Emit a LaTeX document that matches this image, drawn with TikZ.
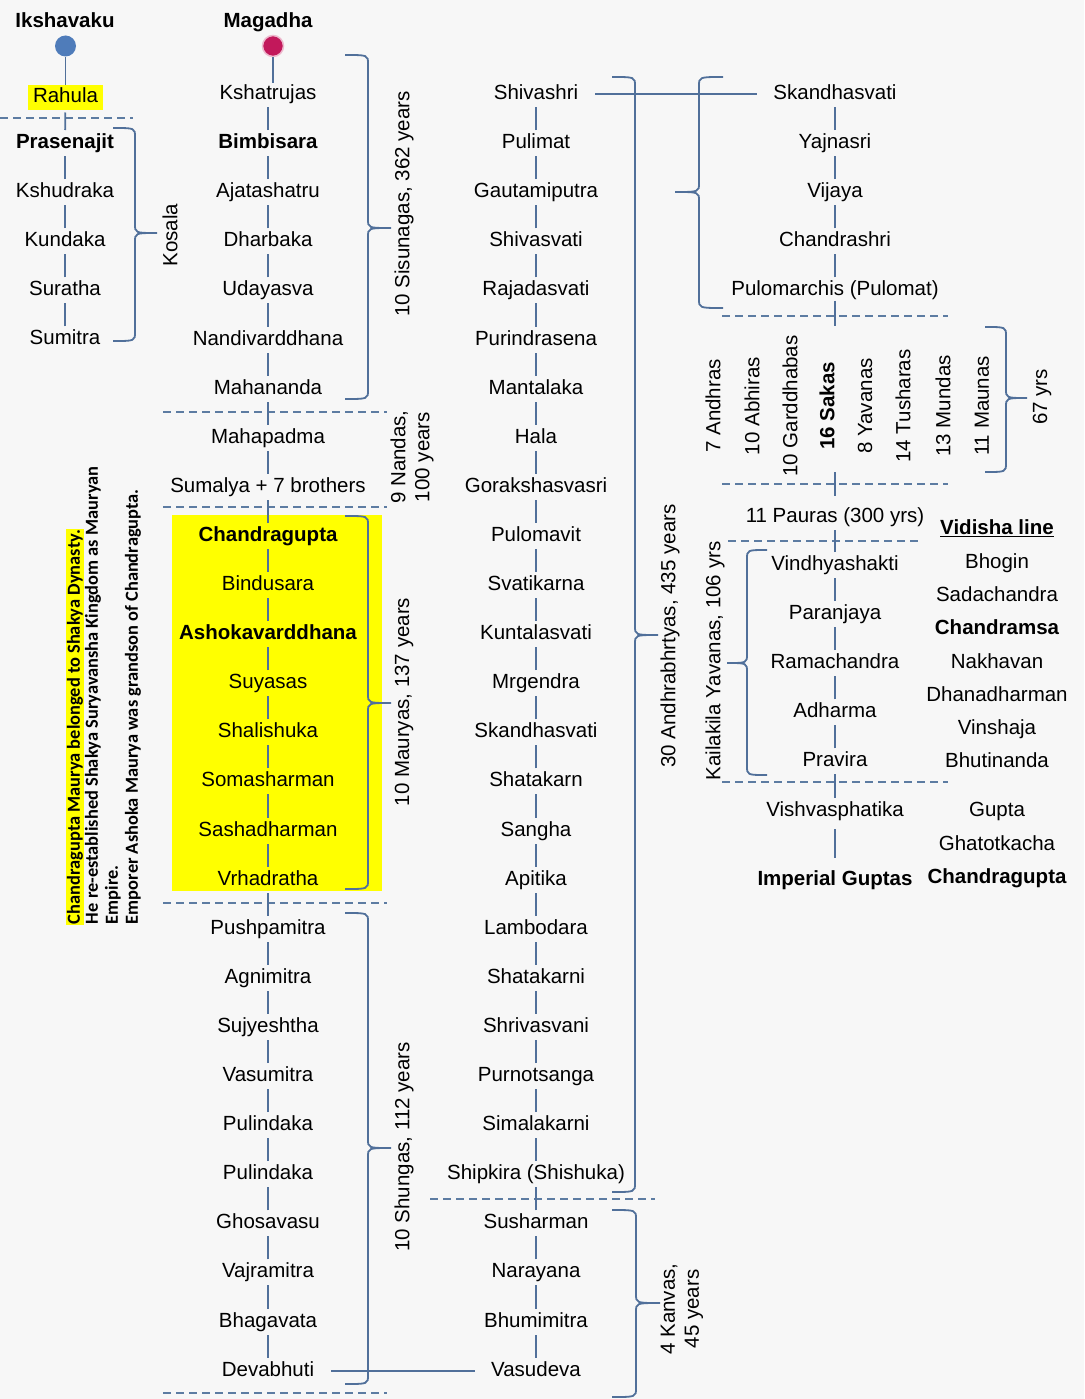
\documentclass[tikz,border=0pt]{standalone}
\usepackage{fontspec}
\setmainfont{Liberation Sans}
\newfontfamily\notefont{Carlito}
\usepackage{tikz}
\usetikzlibrary{positioning}
\usepackage{xcolor}
\definecolor{bgGray}{HTML}{F7F7F7}
\definecolor{lineBlue}{HTML}{51709A}
\definecolor{dashBlue}{HTML}{5D7CA2}
\definecolor{ikBlue}{HTML}{4F7CBA}
\definecolor{mgRed}{HTML}{C2185B}
\definecolor{hiYellow}{HTML}{FFFF00}
\newcommand{\nm}{\fontsize{20.5}{24}\selectfont}
% Word-style curly brace: x of hook ends, top, tip, bottom, signed half width
\newcommand{\wbrace}[5]{%
  \draw[brk] (#1,#2) .. controls ({#1+(#5)},#2) .. ({#1+(#5)},{#2+9})
    -- ({#1+(#5)},{#3-9}) .. controls ({#1+(#5)},#3) .. ({#1+2*(#5)},#3)
    .. controls ({#1+(#5)},#3) .. ({#1+(#5)},{#3+9})
    -- ({#1+(#5)},{#4-9}) .. controls ({#1+(#5)},#4) .. (#1,#4);}

\begin{document}
\begin{tikzpicture}[
    x=1pt, y=-1pt,
    node distance=28.1pt,
    nm/.style={font=\nm, inner sep=0pt, outer sep=0pt, text height=16pt, text depth=5pt},
    bnm/.style={nm, font=\nm\bfseries},
    link/.style={draw=lineBlue, line width=1.8pt, shorten <=2.5pt, shorten >=2.5pt},
    wire/.style={draw=lineBlue, line width=1.8pt},
    bridge/.style={wire, shorten <=17pt, shorten >=16pt},
    sep/.style={draw=dashBlue, line width=1.5pt, dash pattern=on 8pt off 5pt},
    brk/.style={draw=lineBlue, line width=1.8pt},
    vlab/.style={font=\nm, rotate=90, inner sep=0pt},
    dot/.style={circle, inner sep=0pt, minimum size=21pt},
    note/.style={font=\notefont\bfseries\fontsize{18.4}{20}\selectfont, rotate=90, inner sep=1pt, outer sep=0pt, align=left},
]
    \useasboundingbox (0,0) rectangle (1084,1399);
    \fill[bgGray] (0,0) rectangle (1084,1399);
    \fill[hiYellow] (172,515) rectangle (382,891);

    % separators
    \draw[sep] (0,118) -- (133,118);
    \draw[sep] (163,412) -- (387,412);
    \draw[sep] (163,507) -- (387,507);
    \draw[sep] (163,903) -- (387,903);
    \draw[sep] (163,1393) -- (387,1393);
    \draw[sep] (430,1199) -- (655,1199);
    \draw[sep] (722,316) -- (948,316);
    \draw[sep] (722,484) -- (948,484);
    \draw[sep] (728,541) -- (920,541);
    \draw[sep] (722,782) -- (948,782);

    % Ikshavaku / Kosala
    \node[bnm] (ikshavaku) at (65,22) {Ikshavaku};
    \node[dot, fill=ikBlue] (ikdot) at (65.5,46) {};
    \node[nm, fill=hiYellow, inner xsep=5pt, inner ysep=2pt] (rahula) at (65.5,97.5) {Rahula};
    \draw[wire] (ikdot) -- (rahula);
    \node[bnm] (ik1) at (65,143) {Prasenajit} edge[link] (rahula);
    \node[nm, below=of ik1] (ik2) {Kshudraka} edge[link] (ik1);
    \node[nm, below=of ik2] (ik3) {Kundaka} edge[link] (ik2);
    \node[nm, below=of ik3] (ik4) {Suratha} edge[link] (ik3);
    \node[nm, below=of ik4] (ik5) {Sumitra} edge[link] (ik4);

    % Magadha
    \node[bnm] (magadha) at (268,22) {Magadha};
    \node[dot, fill=mgRed, draw=mgRed!30, line width=1.5pt] (mgdot) at (273,46) {};
    \node[nm] (mg1) at (268,94) {Kshatrujas};
    \draw[wire] (mgdot.south) -- (mgdot.south |- mg1.north);
    \node[bnm, below=of mg1] (mg2) {Bimbisara} edge[link] (mg1);
    \node[nm, below=of mg2] (mg3) {Ajatashatru} edge[link] (mg2);
    \node[nm, below=of mg3] (mg4) {Dharbaka} edge[link] (mg3);
    \node[nm, below=of mg4] (mg5) {Udayasva} edge[link] (mg4);
    \node[nm, below=of mg5] (mg6) {Nandivarddhana} edge[link] (mg5);
    \node[nm, below=of mg6] (mg7) {Mahananda} edge[link] (mg6);
    \node[nm, below=of mg7] (mg8) {Mahapadma} edge[link] (mg7);
    \node[nm, below=of mg8] (mg9) {Sumalya + 7 brothers} edge[link] (mg8);
    \node[bnm, below=of mg9] (mg10) {Chandragupta} edge[link] (mg9);
    \node[nm, below=of mg10] (mg11) {Bindusara} edge[link] (mg10);
    \node[bnm, below=of mg11] (mg12) {Ashokavarddhana} edge[link] (mg11);
    \node[nm, below=of mg12] (mg13) {Suyasas} edge[link] (mg12);
    \node[nm, below=of mg13] (mg14) {Shalishuka} edge[link] (mg13);
    \node[nm, below=of mg14] (mg15) {Somasharman} edge[link] (mg14);
    \node[nm, below=of mg15] (mg16) {Sashadharman} edge[link] (mg15);
    \node[nm, below=of mg16] (mg17) {Vrhadratha} edge[link] (mg16);
    \node[nm, below=of mg17] (mg18) {Pushpamitra} edge[link] (mg17);
    \node[nm, below=of mg18] (mg19) {Agnimitra} edge[link] (mg18);
    \node[nm, below=of mg19] (mg20) {Sujyeshtha} edge[link] (mg19);
    \node[nm, below=of mg20] (mg21) {Vasumitra} edge[link] (mg20);
    \node[nm, below=of mg21] (mg22) {Pulindaka} edge[link] (mg21);
    \node[nm, below=of mg22] (mg23) {Pulindaka} edge[link] (mg22);
    \node[nm, below=of mg23] (mg24) {Ghosavasu} edge[link] (mg23);
    \node[nm, below=of mg24] (mg25) {Vajramitra} edge[link] (mg24);
    \node[nm, below=of mg25] (mg26) {Bhagavata} edge[link] (mg25);
    \node[nm, below=of mg26] (mg27) {Devabhuti} edge[link] (mg26);

    % Andhra line
    \node[nm] (an1) at (536,94) {Shivashri};
    \node[nm, below=of an1] (an2) {Pulimat} edge[link] (an1);
    \node[nm, below=of an2] (an3) {Gautamiputra} edge[link] (an2);
    \node[nm, below=of an3] (an4) {Shivasvati} edge[link] (an3);
    \node[nm, below=of an4] (an5) {Rajadasvati} edge[link] (an4);
    \node[nm, below=of an5] (an6) {Purindrasena} edge[link] (an5);
    \node[nm, below=of an6] (an7) {Mantalaka} edge[link] (an6);
    \node[nm, below=of an7] (an8) {Hala} edge[link] (an7);
    \node[nm, below=of an8] (an9) {Gorakshasvasri} edge[link] (an8);
    \node[nm, below=of an9] (an10) {Pulomavit} edge[link] (an9);
    \node[nm, below=of an10] (an11) {Svatikarna} edge[link] (an10);
    \node[nm, below=of an11] (an12) {Kuntalasvati} edge[link] (an11);
    \node[nm, below=of an12] (an13) {Mrgendra} edge[link] (an12);
    \node[nm, below=of an13] (an14) {Skandhasvati} edge[link] (an13);
    \node[nm, below=of an14] (an15) {Shatakarn} edge[link] (an14);
    \node[nm, below=of an15] (an16) {Sangha} edge[link] (an15);
    \node[nm, below=of an16] (an17) {Apitika} edge[link] (an16);
    \node[nm, below=of an17] (an18) {Lambodara} edge[link] (an17);
    \node[nm, below=of an18] (an19) {Shatakarni} edge[link] (an18);
    \node[nm, below=of an19] (an20) {Shrivasvani} edge[link] (an19);
    \node[nm, below=of an20] (an21) {Purnotsanga} edge[link] (an20);
    \node[nm, below=of an21] (an22) {Simalakarni} edge[link] (an21);
    \node[nm, below=of an22] (an23) {Shipkira (Shishuka)} edge[link] (an22);
    \node[nm, below=of an23] (an24) {Susharman} edge[link] (an23);
    \node[nm, below=of an24] (an25) {Narayana} edge[link] (an24);
    \node[nm, below=of an25] (an26) {Bhumimitra} edge[link] (an25);
    \node[nm, below=of an26] (an27) {Vasudeva} edge[link] (an26);

    % Skandhasvati branch
    \node[nm] (sk1) at (835,94) {Skandhasvati};
    \node[nm, below=of sk1] (sk2) {Yajnasri} edge[link] (sk1);
    \node[nm, below=of sk2] (sk3) {Vijaya} edge[link] (sk2);
    \node[nm, below=of sk3] (sk4) {Chandrashri} edge[link] (sk3);
    \node[nm, below=of sk4] (sk5) {Pulomarchis (Pulomat)} edge[link] (sk4);
    \draw[bridge] (an1) -- (sk1);
    \draw[bridge] (mg27) -- (an27);

    % foreign dynasties
    \node[vlab] (andhras) at (713,406) {7 Andhras};
    \node[vlab] (abhiras) at (752,406) {10 Abhiras};
    \node[vlab] (garddhabas) at (790,406) {10 Garddhabas};
    \node[vlab, font=\nm\bfseries] (sakas) at (827,406) {16 Sakas};
    \node[vlab] (yavanas) at (865,406) {8 Yavanas};
    \node[vlab] (tusharas) at (903,406) {14 Tusharas};
    \node[vlab] (mundas) at (943,406) {13 Mundas};
    \node[vlab] (maunas) at (982,406) {11 Maunas};
    \coordinate (cutA) at (835,326);
    \coordinate (cutB) at (835,472);
    \coordinate (cutC) at (835,496);
    \draw[wire] (sk5.south) -- (cutA);
    \draw[wire] (cutB) -- (cutC);

    \node[nm] (pauras) at (835,517) {11 Pauras (300 yrs)};
    \node[nm] (vy1) at (835,565) {Vindhyashakti} edge[link] (pauras);
    \node[nm, below=of vy1] (vy2) {Paranjaya} edge[link] (vy1);
    \node[nm, below=of vy2] (vy3) {Ramachandra} edge[link] (vy2);
    \node[nm, below=of vy3] (vy4) {Adharma} edge[link] (vy3);
    \node[nm, below=of vy4] (vy5) {Pravira} edge[link] (vy4);
    \node[nm, below=of vy5] (vis) {Vishvasphatika} edge[link] (vy5);
    \node[bnm, below=48.5pt of vis] (imp) {Imperial Guptas};
    \draw[link, shorten <=8pt, shorten >=12pt] (vis) -- (imp);

    % Vidisha line
    \node[bnm] (vd0) at (997,529) {\underline{Vidisha line}};
    \node[nm] (vd1) at (997,563) {Bhogin};
    \node[nm, below=12.2pt of vd1] (vd2) {Sadachandra};
    \node[bnm, below=12.2pt of vd2] (vd3) {Chandramsa};
    \node[nm, below=12.2pt of vd3] (vd4) {Nakhavan};
    \node[nm, below=12.2pt of vd4] (vd5) {Dhanadharman};
    \node[nm, below=12.2pt of vd5] (vd6) {Vinshaja};
    \node[nm, below=12.2pt of vd6] (vd7) {Bhutinanda};
    \node[nm, below=of vd7] (vd8) {Gupta};
    \node[nm, below=12.2pt of vd8] (vd9) {Ghatotkacha};
    \node[bnm, below=12.2pt of vd9] (vd10) {Chandragupta};

    % braces
    \wbrace{113}{128}{233}{341}{22}
    \wbrace{345}{55}{228}{399}{23}
    \wbrace{345}{516}{703}{889}{23}
    \wbrace{345}{913}{1148}{1384}{23}
    \wbrace{612}{77}{635}{1192}{23}
    \wbrace{612}{1210}{1303}{1397}{24}
    \wbrace{723}{77}{192}{308}{-24}
    \wbrace{985}{327}{398}{472}{21}
    \wbrace{767}{550}{663}{775}{-20}

    % brace labels
    \node[vlab] (kosala) at (170,235) {Kosala};
    \node[vlab] (sisunagas) at (404,204) {10 Sisunagas, 362 years};
    \node[vlab, align=center] (nandas) at (412,457) {9 Nandas,\\100 years};
    \node[vlab] (mauryas) at (404,702) {10 Mauryas, 137 years};
    \node[vlab] (shungas) at (404,1147) {10 Shungas, 112 years};
    \node[vlab] (andhrabhrtyas) at (670,636) {30 Andhrabhrtyas, 435 years};
    \node[vlab, align=center] (kanvas) at (682,1309) {4 Kanvas,\\45 years};
    \node[vlab] (kailakila) at (715,661) {Kailakila Yavanas, 106 yrs};
    \node[vlab] (yrs67) at (1042,397) {67 yrs};

    % side note
    \node[note, fill=hiYellow, anchor=north west] (noteA) at (66,925) {Chandragupta Maurya belonged to Shakya Dynasty.};
    \node[note, anchor=north west] (noteB) at (noteA.south west) {He re-established Shakya Suryavansha Kingdom as Mauryan\\Empire.\\Emporer Ashoka Maurya was grandson of Chandragupta.};
\end{tikzpicture}
\end{document}
